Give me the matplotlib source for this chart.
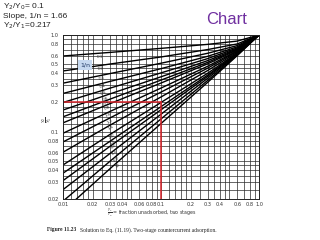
import numpy as np
import matplotlib
matplotlib.use("Agg")
import matplotlib.pyplot as plt
from matplotlib.ticker import NullFormatter

# ---- data ----
x_points = [0.01, 0.03, 0.1, 0.3, 0.6, 1.0]
curve_labels = ["0.1", "0.2", "0.3", "0.4", "0.5", "0.6", "0.7", "0.8", "1.0",
                "1.2", "1.5", "2.0", "2.5", "3.0", "4.0", "6.0", "10"]
curve_y = [
    [0.606, 0.660, 0.727, 0.800, 0.865, 1.0],
    [0.424, 0.500, 0.592, 0.707, 0.808, 1.0],
    [0.317, 0.398, 0.510, 0.647, 0.777, 1.0],
    [0.248, 0.330, 0.448, 0.602, 0.753, 1.0],
    [0.200, 0.281, 0.405, 0.570, 0.735, 1.0],
    [0.167, 0.245, 0.369, 0.543, 0.721, 1.0],
    [0.142, 0.216, 0.341, 0.521, 0.710, 1.0],
    [0.123, 0.194, 0.318, 0.503, 0.700, 1.0],
    [0.096, 0.161, 0.282, 0.475, 0.686, 1.0],
    [0.078, 0.138, 0.256, 0.454, 0.676, 1.0],
    [0.061, 0.116, 0.228, 0.429, 0.663, 1.0],
    [0.045, 0.093, 0.200, 0.402, 0.650, 1.0],
    [0.037, 0.079, 0.181, 0.385, 0.642, 1.0],
    [0.031, 0.070, 0.168, 0.373, 0.635, 1.0],
    [0.025, 0.059, 0.151, 0.357, 0.628, 1.0],
    [0.019, 0.049, 0.135, 0.339, 0.619, 1.0],
    [0.015, 0.041, 0.121, 0.324, 0.612, 1.0],
]
x_tick_values = [0.01, 0.02, 0.03, 0.04, 0.06, 0.08, 0.1, 0.2, 0.3, 0.4, 0.6, 0.8, 1.0]
x_tick_labels = ["0.01", "0.02", "0.03", "0.04", "0.06", "0.08", "0.1",
                 "0.2", "0.3", "0.4", "0.6", "0.8", "1.0"]
y_tick_values = [0.02, 0.03, 0.04, 0.05, 0.06, 0.08, 0.1, 0.2, 0.3, 0.4, 0.5, 0.6, 0.8, 1.0]
y_tick_labels = ["0.02", "0.03", "0.04", "0.05", "0.06", "0.08", "0.1",
                 "0.2", "0.3", "0.4", "0.5", "0.6", "0.8", "1.0"]
guide_x = 0.1
guide_y = 0.2

# ---- styling / layout ----
grid_mantissas = [1, 1.2, 1.4, 1.6, 1.8, 2, 2.5, 3, 3.5, 4, 4.5, 5, 6, 7, 8, 9]
W, H = 320, 240
fig = plt.figure(figsize=(W / 100, H / 100), dpi=100)
fig.patch.set_facecolor("white")
ax = fig.add_axes([63 / W, 41 / H, 196 / W, 164 / H])
ax.set_xscale("log")
ax.set_yscale("log")
ax.set_xlim(0.01, 1.0)
ax.set_ylim(0.02, 1.0)

gx = [m * 10.0 ** d for d in (-2, -1) for m in grid_mantissas] + [1.0]
gy = [m * 10.0 ** d for d in (-2, -1) for m in grid_mantissas if m * 10.0 ** d >= 0.02] + [1.0]
ax.set_xticks(gx, minor=True)
ax.set_yticks(gy, minor=True)
ax.xaxis.set_minor_formatter(NullFormatter())
ax.yaxis.set_minor_formatter(NullFormatter())
ax.set_xticks(x_tick_values, x_tick_labels)
ax.set_yticks(y_tick_values, y_tick_labels)
ax.tick_params(which="both", length=0, labelsize=3.6, colors="#333333")
ax.tick_params(axis="x", pad=2.5)
ax.tick_params(axis="y", pad=3)
ax.grid(which="both", color="#2a2a2a", lw=0.5)
ax.set_axisbelow(True)
for s in ax.spines.values():
    s.set_color("#222222")
    s.set_linewidth(0.7)

for lab, ys in zip(curve_labels, curve_y):
    ax.plot(x_points, ys, color="black", lw=1.0, solid_capstyle="butt")

# curve labels, in a diagonal column as on the original
fig.canvas.draw()
n = len(curve_labels)
for i, (lab, ys) in enumerate(zip(curve_labels, curve_y)):
    lx = 0.0235 * (0.036 / 0.0235) ** (i / (n - 1))
    lxx = np.log10(x_points)
    lyy = np.log10(ys)
    ly = 10 ** np.interp(np.log10(lx), lxx, lyy)
    ly2 = 10 ** np.interp(np.log10(lx * 1.2), lxx, lyy)
    p1 = ax.transData.transform((lx, ly))
    p2 = ax.transData.transform((lx * 1.2, ly2))
    ang = np.degrees(np.arctan2(p2[1] - p1[1], p2[0] - p1[0]))
    if ly > 0.021:
        ax.annotate(lab, (lx, ly), xytext=(0, -2.2), textcoords="offset points",
                    fontsize=3.0, rotation=ang, rotation_mode="anchor",
                    ha="center", va="center", color="#222222")

ax.text(0.0168, 0.49, "1/n", fontsize=4.5, ha="center", va="center", color="#1f3864",
        bbox=dict(boxstyle="square,pad=0.35", fc="#c6d9f0", ec="none"))

# red guide lines
ax.plot([0.01, guide_x], [guide_y, guide_y], color="#d9232a", lw=1.1)
ax.plot([guide_x, guide_x], [guide_y, 0.02], color="#d9232a", lw=1.1)

# texts
fig.text(227 / W, 1 - 20 / H, "Chart", fontsize=12, color="#7030a0",
         ha="center", va="center", family="Liberation Sans")
tl = dict(fontsize=6.0, ha="left", va="center", family="Liberation Sans", color="#222222")
fig.text(3 / W, 1 - 6.5 / H, r"Y$_2$/Y$_0$= 0.1", **tl)
fig.text(3 / W, 1 - 16 / H, "Slope, 1/n = 1.66", **tl)
fig.text(3 / W, 1 - 25.5 / H, r"Y$_2$/Y$_1$=0.217", **tl)

fig.text(47 / W, 1 - 120 / H, r"$\frac{Y_2}{Y_1}$", fontsize=4.5, rotation=90,
         ha="center", va="center", color="#333333")
fig.text(152 / W, 1 - 213 / H, r"$\frac{Y_2}{Y_0}$ = fraction unadsorbed, two stages",
         fontsize=3.4, ha="center", va="center", color="#333333")
fig.text(47 / W, 1 - 230 / H, "Figure 11.23", fontsize=4.0, fontweight="bold",
         ha="left", va="center", family="Liberation Serif", color="#222222")
fig.text(80 / W, 1 - 230 / H, "Solution to Eq. (11.19). Two-stage countercurrent adsorption.",
         fontsize=4.0, ha="left", va="center", family="Liberation Serif", color="#222222")

fig.savefig("out.png", dpi=100, facecolor="white")
